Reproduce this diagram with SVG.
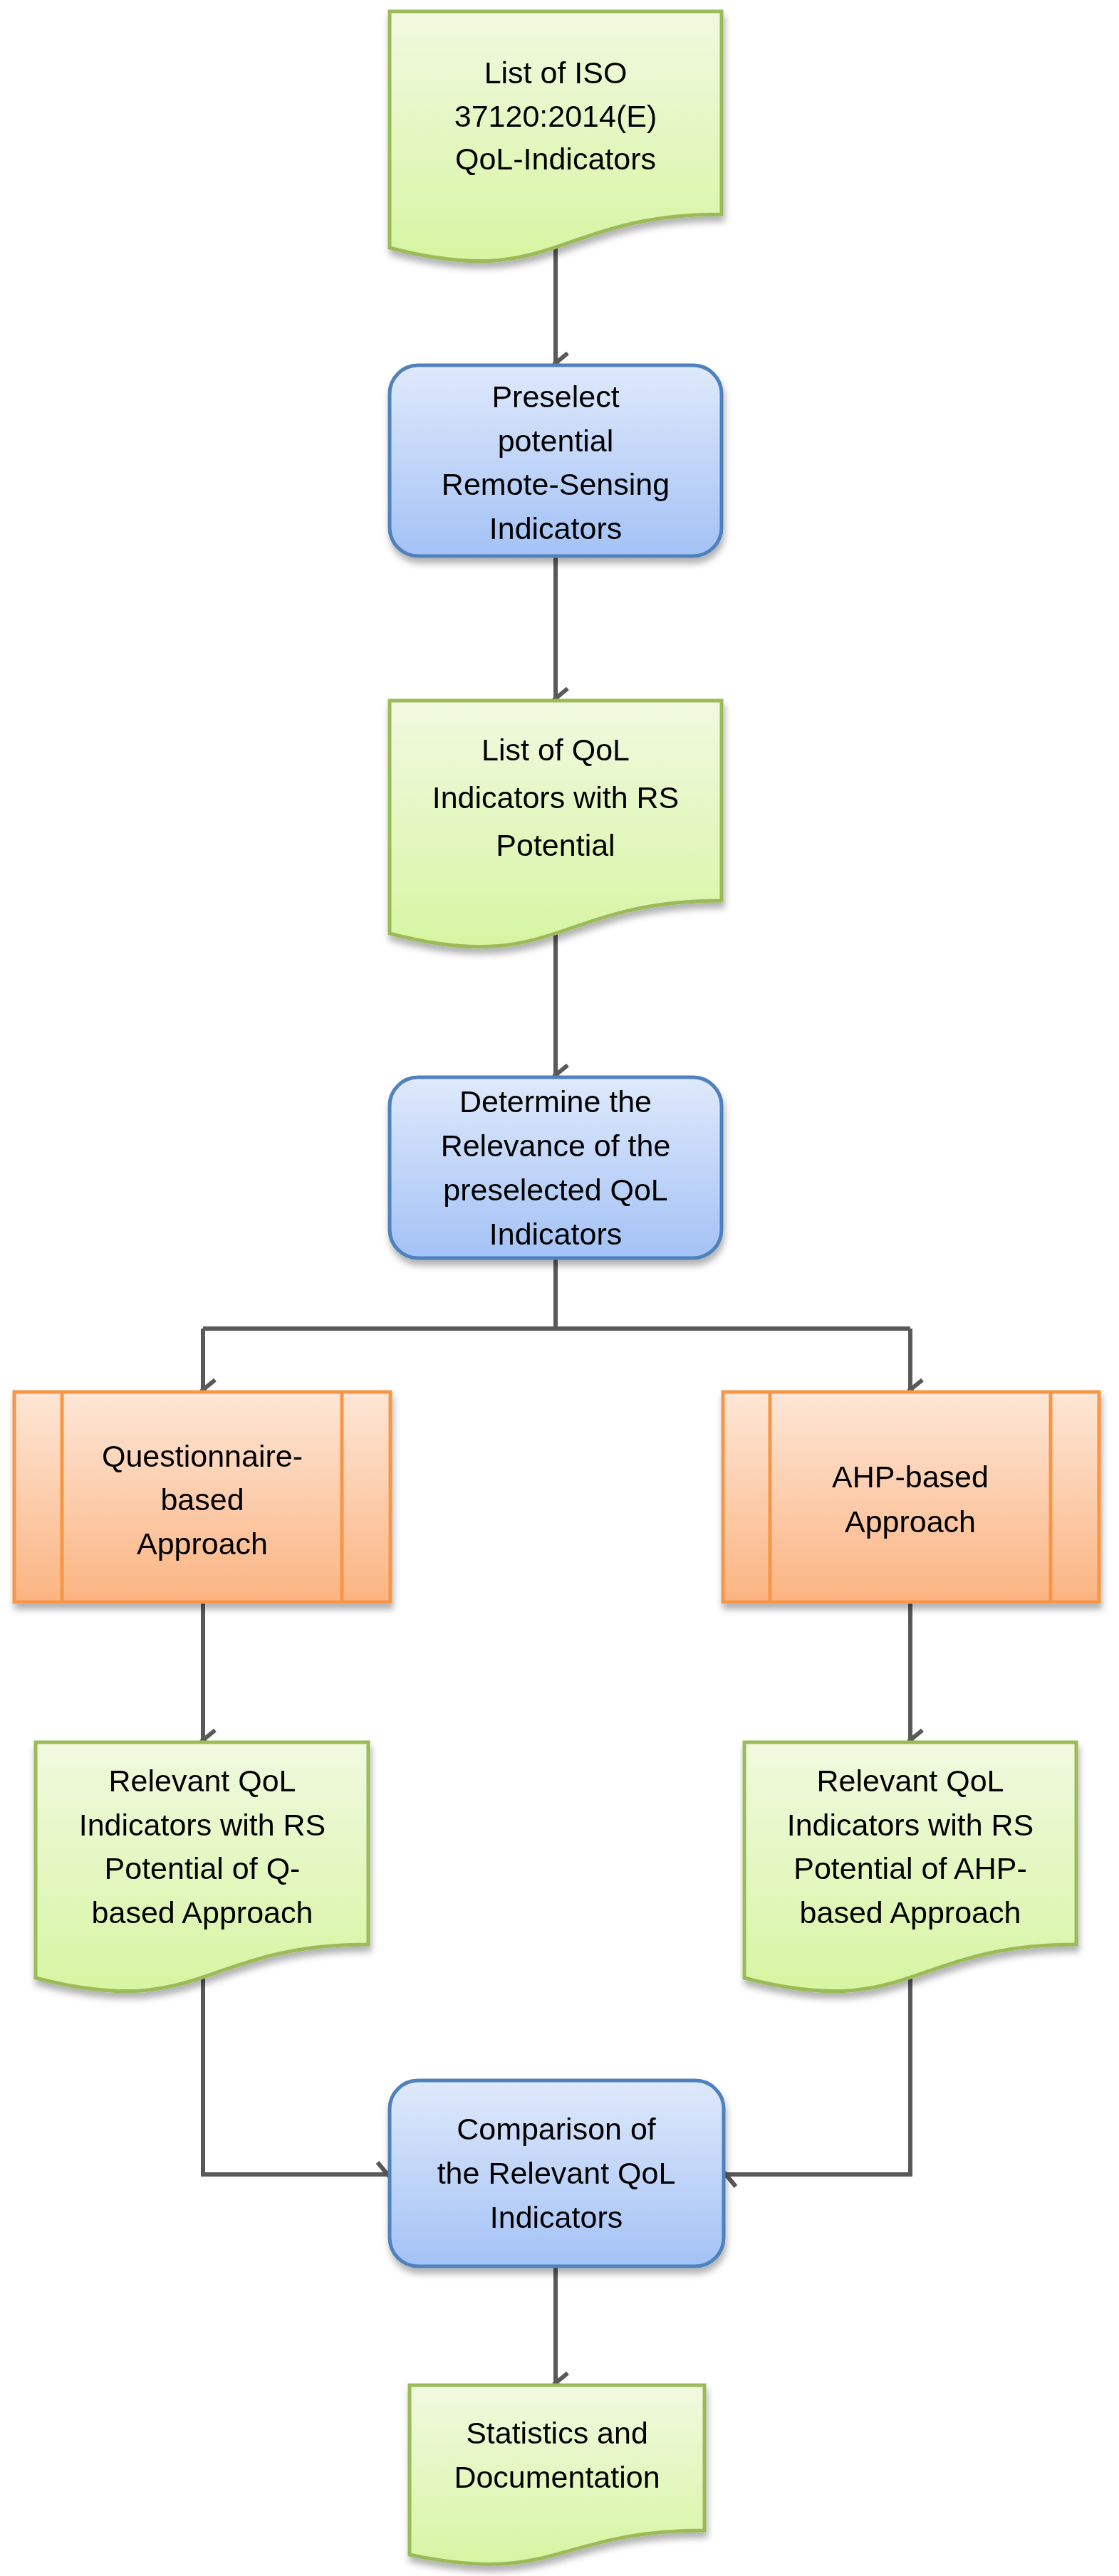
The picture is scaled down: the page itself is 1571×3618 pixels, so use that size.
<svg xmlns="http://www.w3.org/2000/svg" width="1571" height="3618" viewBox="0 0 1571 3618">
<style>
.g{fill:url(#gg);stroke:#9bbb59;stroke-width:5}
.b{fill:url(#bg);stroke:#4f81bd;stroke-width:5}
.o{fill:url(#og);stroke:#f79646;stroke-width:5}
.t{font-family:"Liberation Sans Narrow","Liberation Sans",Arial,sans-serif;font-size:43px;fill:#000;text-anchor:middle;dominant-baseline:central}
.c{fill:none;stroke:#595959;stroke-width:6}
</style>
<defs>
<linearGradient id="gg" x1="0" y1="0" x2="0" y2="1"><stop offset="0" stop-color="#f1f9e0"/><stop offset="1" stop-color="#d7f5a2"/></linearGradient>
<linearGradient id="bg" x1="0" y1="0" x2="0" y2="1"><stop offset="0" stop-color="#dfe9fb"/><stop offset="1" stop-color="#a3c2f6"/></linearGradient>
<linearGradient id="og" x1="0" y1="0" x2="0" y2="1"><stop offset="0" stop-color="#fde6d6"/><stop offset="1" stop-color="#fbb482"/></linearGradient>
<filter id="sh" x="-10%" y="-10%" width="120%" height="125%"><feDropShadow dx="2" dy="8" stdDeviation="5" flood-color="#000" flood-opacity="0.3"/></filter>
<marker id="ah" markerWidth="16" markerHeight="16" refX="8" refY="15" orient="auto" markerUnits="userSpaceOnUse" viewBox="0 0 16 16" overflow="visible"><path d="M-6,-2 L8,15 L22,-2" fill="none" stroke="#595959" stroke-width="6"/></marker>
</defs>
<g id="connectors">
<path class="c" d="M780,349 V510" marker-end="url(#ah)"/>
<path class="c" d="M780,781 V981" marker-end="url(#ah)"/>
<path class="c" d="M780,1311 V1510" marker-end="url(#ah)"/>
<path class="c" d="M780,1767 V1866 M285,1866 H1278"/>
<path class="c" d="M285,1866 V1952" marker-end="url(#ah)"/>
<path class="c" d="M1278,1866 V1952" marker-end="url(#ah)"/>
<path class="c" d="M285,2250 V2444" marker-end="url(#ah)"/>
<path class="c" d="M1278,2250 V2444" marker-end="url(#ah)"/>
<path class="c" d="M285,2777 V3054 H544" marker-end="url(#ah)"/>
<path class="c" d="M1278,2777 V3054 H1019" marker-end="url(#ah)"/>
<path class="c" d="M780,3183 V3347" marker-end="url(#ah)"/>
</g>
<g id="n1" filter="url(#sh)"><path class="g" d="M547,16 H1013 V301 C780,301 780,409 547,348 Z"/>
<text class="t" x="780" y="102">List of ISO</text><text class="t" x="780" y="163">37120:2014(E)</text><text class="t" x="780" y="223">QoL-Indicators</text></g>
<g id="n2" filter="url(#sh)"><rect class="b" x="547" y="513" width="466" height="268" rx="40"/>
<text class="t" x="780" y="557">Preselect</text><text class="t" x="780" y="619">potential</text><text class="t" x="780" y="680">Remote-Sensing</text><text class="t" x="780" y="742">Indicators</text></g>
<g id="n3" filter="url(#sh)"><path class="g" d="M547,984 H1013 V1265 C780,1265 780,1372 547,1311 Z"/>
<text class="t" x="780" y="1053">List of QoL</text><text class="t" x="780" y="1120">Indicators with RS</text><text class="t" x="780" y="1187">Potential</text></g>
<g id="n4" filter="url(#sh)"><rect class="b" x="547" y="1513" width="466" height="254" rx="40"/>
<text class="t" x="780" y="1547">Determine the</text><text class="t" x="780" y="1609">Relevance of the</text><text class="t" x="780" y="1671">preselected QoL</text><text class="t" x="780" y="1733">Indicators</text></g>
<g id="n5" filter="url(#sh)"><rect class="o" x="20" y="1955" width="528" height="295"/><path class="o" d="M87,1955 V2250 M480,1955 V2250"/>
<text class="t" x="284" y="2045">Questionnaire-</text><text class="t" x="284" y="2106">based</text><text class="t" x="284" y="2168">Approach</text></g>
<g id="n6" filter="url(#sh)"><rect class="o" x="1015" y="1955" width="528" height="295"/><path class="o" d="M1081,1955 V2250 M1475,1955 V2250"/>
<text class="t" x="1278" y="2074">AHP-based</text><text class="t" x="1278" y="2137">Approach</text></g>
<g id="n7" filter="url(#sh)"><path class="g" d="M50,2447 H517 V2731 C284,2731 284,2839 50,2778 Z"/>
<text class="t" x="284" y="2501">Relevant QoL</text><text class="t" x="284" y="2563">Indicators with RS</text><text class="t" x="284" y="2624">Potential of Q-</text><text class="t" x="284" y="2686">based Approach</text></g>
<g id="n8" filter="url(#sh)"><path class="g" d="M1045,2447 H1511 V2731 C1278,2731 1278,2839 1045,2778 Z"/>
<text class="t" x="1278" y="2501">Relevant QoL</text><text class="t" x="1278" y="2563">Indicators with RS</text><text class="t" x="1278" y="2624">Potential of AHP-</text><text class="t" x="1278" y="2686">based Approach</text></g>
<g id="n9" filter="url(#sh)"><rect class="b" x="547" y="2922" width="469" height="261" rx="40"/>
<text class="t" x="781" y="2990">Comparison of</text><text class="t" x="781" y="3052">the Relevant QoL</text><text class="t" x="781" y="3114">Indicators</text></g>
<g id="n10" filter="url(#sh)"><path class="g" d="M575,3350 H989 V3554 C782,3554 782,3632 575,3588 Z"/>
<text class="t" x="782" y="3417">Statistics and</text><text class="t" x="782" y="3479">Documentation</text></g>
</svg>
